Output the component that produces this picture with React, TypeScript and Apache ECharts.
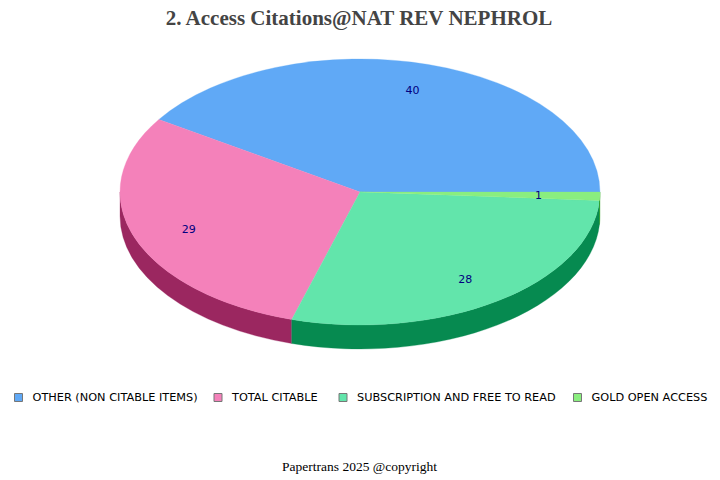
import React, { useEffect, useRef } from "react";
import * as echarts from "echarts";

const categories = ["OTHER (NON CITABLE ITEMS)", "TOTAL CITABLE", "SUBSCRIPTION AND FREE TO READ", "GOLD OPEN ACCESS"];
const values = [40, 29, 28, 1];
const topColors = ["#60A9F6", "#F481BA", "#62E5AB", "#8AEE7F"];
const sideColors = ["#0A5FB4", "#9B2760", "#068A50", "#1F9A10"];
const legendLefts = [14, 213.5, 338.5, 573];
const labelShiftX = [0.5, 0.5, 0.5, -4.5];

const CX = 360, CY = 192, RX = 240, RY = 133, DEPTH = 24, LRX = 183, LRY = 106.5;
const total = values.reduce((a, b) => a + b, 0);

// Slices run clockwise from 3 o'clock, last category first.
function startValue(i: number) {
  let s = 0;
  for (let k = values.length - 1; k > i; k--) s += values[k];
  return s;
}
const pt = (a: number, dy = 0) => `${CX + RX * Math.cos(a)} ${CY + RY * Math.sin(a) + dy}`;

function makeSeries(name: string, i: number) {
  return {
    type: "custom",
    name,
    coordinateSystem: "none",
    silent: true,
    itemStyle: { color: topColors[i] },
    data: [[values[i]]],
    renderItem: (_p: any, api: any) => {
      const a0 = (startValue(i) / total) * Math.PI * 2;
      const a1 = a0 + (api.value(0) / total) * Math.PI * 2;
      const large = a1 - a0 > Math.PI ? 1 : 0;
      const children: any[] = [];
      const s0 = Math.max(a0, 0), s1 = Math.min(a1, Math.PI);
      if (s1 > s0) {
        children.push({
          type: "path",
          shape: {
            pathData: `M ${pt(s0)} A ${RX} ${RY} 0 0 1 ${pt(s1)} L ${pt(s1, DEPTH)} A ${RX} ${RY} 0 0 0 ${pt(s0, DEPTH)} Z`,
          },
          style: { fill: sideColors[i], stroke: sideColors[i], lineWidth: 0.3 },
        });
      }
      children.push({
        type: "path",
        shape: { pathData: `M ${CX} ${CY} L ${pt(a0)} A ${RX} ${RY} 0 ${large} 1 ${pt(a1)} Z` },
        style: { fill: topColors[i], stroke: topColors[i], lineWidth: 0.3 },
      });
      const mid = (a0 + a1) / 2;
      children.push({
        type: "text",
        z2: 10,
        style: {
          text: String(api.value(0)),
          x: CX + LRX * Math.cos(mid) + labelShiftX[i],
          y: CY + LRY * Math.sin(mid) + 0.5,
          fill: "#000080",
          font: "11px 'DejaVu Sans'",
          align: "center",
          verticalAlign: "middle",
        },
      });
      return { type: "group", children };
    },
  };
}

export default function App() {
  const ref = useRef<HTMLDivElement>(null);
  useEffect(() => {
    document.body.style.margin = "0";
    const chart = echarts.init(ref.current!, null, { renderer: "svg" });
    chart.setOption({
      animation: false,
      backgroundColor: "#ffffff",
      title: [
        {
          text: "2. Access Citations@NAT REV NEPHROL",
          left: 359,
          top: 7,
          padding: 0,
          textAlign: "center",
          textStyle: { fontFamily: "Liberation Serif", fontSize: 21, fontWeight: "bold", color: "#444444" },
        },
        {
          text: "Papertrans 2025 @copyright",
          left: 359.5,
          top: 459,
          padding: 0,
          textAlign: "center",
          textStyle: { fontFamily: "Liberation Serif", fontSize: 13.5, fontWeight: "normal", color: "#000000" },
        },
      ],
      legend: categories.map((name, i) => ({
        data: [name],
        left: legendLefts[i],
        top: 392,
        icon: "rect",
        itemWidth: 8,
        itemHeight: 8,
        padding: 0,
        itemStyle: { borderColor: "#777777", borderWidth: 1 },
        textStyle: { fontFamily: "DejaVu Sans", fontSize: 11.3, color: "#000000", padding: [0, 0, 0, 5] },
      })),
      series: categories.map(makeSeries),
    });
    return () => chart.dispose();
  }, []);
  return <div ref={ref} style={{ width: 720, height: 480 }} />;
}
